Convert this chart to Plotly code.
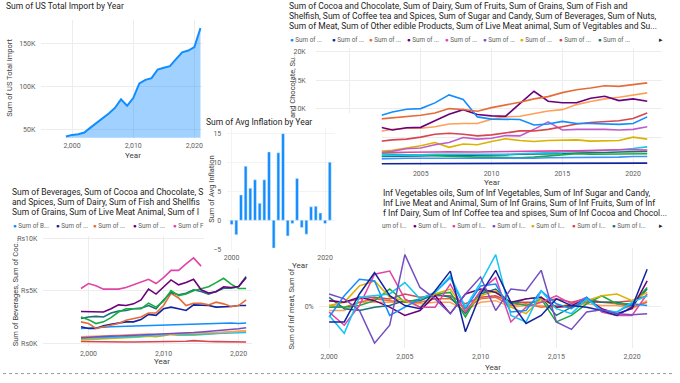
import plotly.graph_objects as go

W, H = 680, 383

# ----------------- data -----------------
import_years = list(range(1999, 2022))
us_total_import_k = [42.4, 44.3, 45.0, 47.0, 52.7, 58.0, 63.0, 69.0, 75.5, 85.4, 78.0, 87.0,
                     104.0, 108.0, 110.0, 120.0, 122.0, 124.0, 132.0, 140.0, 142.0, 146.0, 168.0]

cat_years = list(range(2002, 2022))
imp_cocoa = [8.67, 9.42, 9.88, 10.0, 11.0, 12.4, 11.6, 8.55, 8.16, 8.1, 8.1, 7.12, 7.29, 7.76, 7.4, 7.4, 7.29, 7.24, 7.4, 8.55]
imp_dairy = [0.35, 0.35, 0.35, 0.35, 0.35, 0.35, 0.35, 0.35, 0.35, 0.35, 0.35, 0.35, 0.38, 0.38, 0.38, 0.4, 0.4, 0.4, 0.42, 0.45]
imp_fruits = [8.16, 8.38, 8.55, 8.84, 9.24, 10.0, 9.83, 9.53, 10.17, 10.57, 11.1, 11.7, 12.1, 12.8, 13.3, 13.6, 14.0, 13.9, 14.2, 14.5]
imp_grains = [6.83, 6.26, 6.66, 6.72, 7.87, 9.02, 9.82, 8.96, 8.73, 8.67, 10.86, 13.04, 11.3, 11.03, 11.03, 11.83, 12.17, 11.4, 11.7, 11.3]
imp_fish = [2.3, 2.3, 2.35, 2.4, 2.4, 2.45, 2.4, 2.4, 2.45, 2.5, 2.5, 2.5, 2.55, 2.6, 2.6, 2.7, 2.75, 2.8, 2.8, 2.75]
imp_coffee = [2.24, 2.52, 2.98, 3.1, 3.67, 4.07, 4.93, 4.65, 4.82, 5.28, 5.22, 6.37, 7.69, 6.26, 6.37, 6.43, 6.37, 6.26, 6.37, 6.83]
imp_sugar = [2.52, 2.69, 3.1, 3.5, 4.07, 3.21, 3.79, 3.67, 4.25, 4.71, 4.42, 4.25, 4.42, 4.53, 4.53, 4.3, 4.42, 4.42, 5.0, 4.65]
imp_beverages = [4.25, 4.53, 4.65, 5.0, 5.5, 5.69, 5.5, 5.22, 5.4, 5.69, 6.09, 6.09, 6.37, 6.83, 7.29, 7.58, 7.69, 7.87, 8.27, 9.24]
imp_nuts = [1.6, 1.6, 1.7, 1.7, 1.8, 1.8, 1.8, 1.8, 1.9, 1.9, 2.0, 2.0, 2.1, 2.1, 2.2, 2.2, 2.3, 2.4, 2.4, 2.5]
imp_meat = [2.1, 2.0, 2.0, 1.9, 1.8, 1.7, 1.6, 1.5, 1.5, 1.4, 1.4, 1.5, 1.7, 2.0, 2.1, 2.0, 2.0, 2.0, 2.1, 2.1]
imp_other = [1.8, 1.8, 1.9, 1.9, 2.0, 2.0, 2.0, 1.9, 1.9, 2.0, 2.1, 2.2, 2.3, 2.4, 2.4, 2.5, 2.6, 2.8, 3.0, 3.3]
imp_live_meat = [1.2, 1.3, 1.3, 1.3, 1.3, 1.2, 1.2, 1.2, 1.2, 1.2, 1.3, 1.3, 1.4, 1.4, 1.4, 1.4, 1.5, 1.5, 1.6, 1.6]
imp_vegetables = [5.97, 6.37, 6.55, 6.55, 6.83, 7.29, 7.4, 7.4, 8.16, 8.55, 8.67, 9.13, 9.59, 9.82, 10.7, 11.26, 11.7, 12.0, 12.4, 12.76]

rs_years = list(range(1999, 2022))
rs_beverages = [1.43, 1.45, 1.5, 1.55, 1.6, 1.62, 1.65, 1.7, 1.72, 1.75, 1.72, 1.75, 1.8, 1.8, 1.82, 1.85, 1.85, 1.85, 1.88, 1.9, 1.95, 1.9, 1.95]
rs_cocoa = [1.59, 1.43, 1.43, 1.68, 1.84, 1.96, 2.06, 2.06, 2.27, 2.77, 2.68, 3.3, 3.46, 3.3, 3.14, 3.67, 3.67, 3.61, 3.46, 3.46, 3.52, 3.61, 3.61]
rs_coffee = [2.06, 1.9, 1.43, 1.59, 1.74, 1.9, 2.21, 2.37, 2.52, 2.9, 2.9, 3.61, 4.77, 4.33, 3.61, 3.83, 3.83, 3.67, 3.93, 3.77, 3.52, 3.61, 4.14]
rs_dairy = [3.05, 3.05, 2.99, 2.99, 3.3, 3.67, 3.61, 3.77, 4.14, 5.17, 4.7, 5.33, 6.04, 5.58, 5.79, 6.1, 5.11, 4.8, 4.92, 5.39, 5.33, 5.42, 6.26]
rs_fish = [5.23, 5.7, 5.48, 5.17, 5.17, 5.17, 5.33, 5.58, 5.79, 6.1, 5.7, 6.26, 6.95, 6.95, 7.57, 8.13, 7.35, None, None, None, None, None, None]
rs_fruits = [0.35, 0.38, 0.4, 0.42, 0.45, 0.5, 0.55, 0.6, 0.62, 0.7, 0.65, 0.75, 0.85, 0.8, 0.78, 0.8, 0.85, 0.9, 0.95, 1.0, 1.05, 1.1, 1.2]
rs_grains = [0.55, 0.6, 0.62, 0.65, 0.7, 0.72, 0.75, 0.78, 0.8, 0.85, 0.85, 0.9, 0.95, 0.98, 1.0, 1.05, 1.1, 1.15, 1.2, 1.25, 1.3, 1.4, 1.5]
rs_live_meat = [0.2, 0.18, 0.17, 0.16, 0.16, 0.15, 0.15, 0.15, 0.15, 0.16, 0.15, 0.16, 0.18, 0.2, 0.22, 0.28, 0.22, 0.2, 0.18, 0.17, 0.16, 0.15, 0.15]
rs_meat = [2.37, 2.52, 2.58, 2.52, 2.9, 3.08, 3.14, 3.3, 3.36, 3.61, 3.3, 4.14, 4.86, 4.64, 4.77, 5.11, 4.95, 4.7, 4.95, 5.26, 5.26, 5.39, 6.36]
rs_nuts = [2.52, 2.27, 1.9, 2.06, 2.46, 2.99, 3.3, 3.3, 3.3, 3.83, 3.46, 4.02, 5.02, 4.55, 4.7, 5.02, 5.17, 5.39, 5.79, 6.2, 5.64, 5.23, 5.23]
rs_other = [0.5, 0.5, 0.52, 0.55, 0.58, 0.6, 0.62, 0.65, 0.7, 0.8, 0.75, 0.8, 0.9, 0.85, 0.85, 0.88, 0.9, 0.92, 0.95, 0.98, 1.0, 1.0, 1.05]
rs_sugar = [0.65, 0.68, 0.7, 0.72, 0.75, 0.78, 0.8, 0.82, 0.85, 0.9, 0.85, 0.9, 0.95, 0.95, 0.98, 1.0, 1.0, 1.02, 1.05, 1.08, 1.1, 1.15, 1.2]

infl_years = list(range(2000, 2022))
avg_inflation = [-0.74, -2.5, 4.35, 9.3, 5.5, 6.95, 2.9, 6.95, 11.75, -4.8, 11.6, 14.9,
                 -2.7, -0.57, 7.2, -1.25, -2.4, 2.3, 2.4, 1.25, -0.57, 10.0]

inf_years = list(range(2000, 2022))
inf_veg_oils = [6.2, 3.7, -2.2, -18.8, -9.7, 26.2, 9.5, 3.7, -3.8, 6.2, 14.8, -2.2, 8.7, 7.8, 18.2, -8.0, -11.8, -3.0, -1.8, -3.8, -4.3, -3.8]
inf_vegetables = [-8.0, -8.0, 6.2, 17.0, 5.3, 0.3, -1.3, 7.8, 17.8, -13.0, 6.2, 18.2, 2.0, -8.8, -4.7, 3.7, 0.3, -0.5, -2.2, -4.7, -0.5, 18.7]
inf_sugar = [-4.7, -13.8, 4.5, 5.3, 6.2, 12.0, 3.7, 7.0, 15.3, -0.5, 12.0, 26.2, -4.7, -8.0, 7.8, -1.3, -3.8, 3.7, -2.2, -3.0, 2.0, 5.3]
inf_meat = [-5.5, 5.3, 13.7, 12.8, -4.7, -0.5, 3.7, 7.0, 14.5, -1.3, 10.3, 11.2, -3.0, -2.2, 7.8, 1.2, -1.3, 4.5, -2.2, -3.0, 1.2, 0.3]
inf_live_meat = [-3.0, -9.7, 0.3, 16.2, 17.8, 3.7, -0.5, -0.5, 11.2, -3.0, 7.8, 14.5, -8.0, -0.5, 2.0, 5.3, 1.2, 4.5, -3.0, -4.7, -4.7, 6.2]
inf_grains = [2.8, 2.0, 4.5, 2.8, -0.5, -4.7, -2.2, 5.3, -3.8, 6.2, 8.7, 7.0, 2.0, 3.7, 4.5, -0.5, 0.3, 3.7, -1.3, -3.8, -1.3, 12.8]
inf_fruits = [0.3, 2.0, 10.3, 12.8, 4.5, 2.8, -0.5, 6.2, 8.7, -2.2, 5.3, 7.8, -0.5, -3.8, 3.7, -0.5, 1.2, 2.8, 5.3, 6.2, 2.8, 7.0]
inf_dairy = [-0.5, -0.5, 0.3, 2.8, 8.7, 2.0, 3.7, 6.2, 7.0, -5.5, 7.8, 7.0, 2.0, 0.3, 3.7, -8.0, -4.7, 1.2, 5.3, 1.2, 1.2, 9.5]
inf_coffee = [4.5, -1.3, -2.2, -0.5, 0.3, 2.8, 2.8, 6.2, 4.5, -3.8, 6.2, 8.7, 1.2, 3.7, 4.5, -4.7, -0.5, 2.8, 2.0, 2.0, 0.3, 8.7]
inf_cocoa = [2.8, 2.0, 3.7, 4.5, 3.7, 6.2, 4.5, 5.3, 5.3, 1.2, 4.5, 5.3, 2.0, 2.0, 2.0, 3.7, 2.0, 3.7, 2.0, 2.0, 2.8, 5.3]
inf_fish = [0.3, -0.5, 2.0, 3.7, 2.8, 2.0, 2.0, 3.7, 3.7, -1.3, 3.7, 4.5, 0.3, 1.2, -0.5, 0.3, -0.2, 2.0, 2.0, 1.2, -0.5, 2.0]
inf_beverages = [-2.2, -2.2, 2.0, 2.0, 2.0, 2.0, 1.2, 2.0, 2.0, -2.2, 2.0, 2.8, -0.5, 0.3, 0.3, -0.5, -0.5, 1.2, 0.3, 0.3, -1.3, 2.8]

# ----------------- styling -----------------
FONT = "Roboto"
TITLE_C = "#252423"
TICK_C = "#605E5C"
GRID_C = "#EDEDED"
BLUE, NAVY, ORANGE, PURPLE, PINK, VIOLET = "#118DFF", "#12239E", "#E66C37", "#6B007B", "#E044A7", "#744EC2"
YELLOW, RED, TEAL, GREEN, CYAN, BLUE2, LORANGE, ORCHID = "#D9B300", "#D64550", "#197278", "#1AAB40", "#15C6F4", "#4092FF", "#FFA058", "#BE5DC9"


def fx(p):
    return p / W


def fy(p):
    return 1 - p / H


fig = go.Figure()

# 1. top-left area chart
fig.add_trace(go.Scatter(x=import_years, y=us_total_import_k, mode="lines", fill="tozeroy",
                         line=dict(color=BLUE, width=2), fillcolor="rgba(17,141,255,0.4)",
                         xaxis="x", yaxis="y", showlegend=False))

# 2. top-right lines
tr_series = [
    ("Nuts", imp_nuts, TEAL), ("Meat", imp_meat, GREEN), ("Live Meat animal", imp_live_meat, BLUE2),
    ("Other edible Products", imp_other, CYAN), ("Fish and Shellfish", imp_fish, PINK),
    ("Dairy", imp_dairy, NAVY), ("Sugar and Candy", imp_sugar, YELLOW), ("Coffee tea and Spices", imp_coffee, ORCHID),
    ("Beverages", imp_beverages, RED), ("Vegitables", imp_vegetables, LORANGE),
    ("Grains", imp_grains, PURPLE), ("Cocoa and Chocolate", imp_cocoa, BLUE), ("Fruits", imp_fruits, ORANGE),
]
for name, vals, col in tr_series:
    fig.add_trace(go.Scatter(x=cat_years, y=vals, mode="lines", name=name,
                             line=dict(color=col, width=1.6), xaxis="x2", yaxis="y2", showlegend=False))

# 3. bottom-left lines
bl_series = [
    ("Live Meat Animal", rs_live_meat, RED), ("Fruits", rs_fruits, YELLOW), ("Other", rs_other, CYAN),
    ("Sugar", rs_sugar, LORANGE), ("Grains", rs_grains, VIOLET), ("Beverages", rs_beverages, BLUE),
    ("Cocoa and Chocolate", rs_cocoa, NAVY), ("Coffee tea and Spices", rs_coffee, ORANGE),
    ("Meat", rs_meat, TEAL), ("Nuts", rs_nuts, GREEN), ("Dairy", rs_dairy, PURPLE), ("Fish and Shellfish", rs_fish, PINK),
]
for name, vals, col in bl_series:
    fig.add_trace(go.Scatter(x=rs_years, y=vals, mode="lines", name=name,
                             line=dict(color=col, width=1.6), xaxis="x3", yaxis="y3", showlegend=False))

# 4. bottom-right lines
br_series = [
    ("Inf Beverages", inf_beverages, LORANGE), ("Inf Fish", inf_fish, ORANGE), ("Inf Cocoa", inf_cocoa, RED),
    ("Inf Coffee", inf_coffee, TEAL), ("Inf Dairy", inf_dairy, GREEN), ("Inf Fruits", inf_fruits, YELLOW),
    ("Inf Grains", inf_grains, PURPLE), ("Inf Live Meat", inf_live_meat, PINK), ("Inf meat", inf_meat, BLUE),
    ("Inf Sugar", inf_sugar, CYAN), ("Inf Vegetables", inf_vegetables, NAVY), ("Inf Vegetables oils", inf_veg_oils, VIOLET),
]
for name, vals, col in br_series:
    fig.add_trace(go.Scatter(x=inf_years, y=vals, mode="lines", name=name,
                             line=dict(color=col, width=1.5), xaxis="x4", yaxis="y4", showlegend=False))

# 5. cover (the overlapping visual's white card)
fig.add_trace(go.Scatter(x=[], y=[], mode="lines", xaxis="x5", yaxis="y5", showlegend=False, hoverinfo="skip"))

# 6. bar chart
fig.add_trace(go.Bar(x=infl_years, y=avg_inflation, marker_color=BLUE, width=0.62,
                     xaxis="x6", yaxis="y6", showlegend=False))

tickfont = dict(family=FONT, size=7, color=TICK_C)


def ax(**kw):
    base = dict(showgrid=True, gridcolor=GRID_C, gridwidth=1, zeroline=False, showline=False,
                tickfont=tickfont, ticks="outside", ticklen=3, tickcolor="rgba(0,0,0,0)", tickmode="array")
    base.update(kw)
    return base


fig.update_layout(
    width=W, height=H, autosize=False,
    margin=dict(l=0, r=0, t=0, b=0),
    paper_bgcolor="white", plot_bgcolor="white",
    font=dict(family=FONT, color=TITLE_C),
    bargap=0.3,
    xaxis=ax(domain=[fx(38), fx(200)], range=[1994.88, 2021.22], tickvals=[2000, 2010, 2020],
             tickformat=",d", anchor="y", ticklen=1),
    yaxis=ax(domain=[fy(138), fy(18)], range=[40.9, 177.7], tickvals=[50, 100, 150],
             ticktext=["50K", "100K", "150K"], anchor="x"),
    xaxis2=ax(domain=[fx(315), fx(663)], range=[1997.61, 2022.05], tickvals=[2000, 2005, 2010, 2015, 2020],
              tickformat="d", anchor="y2", ticklen=1),
    yaxis2=ax(domain=[fy(166.3), fy(47)], range=[0, 20.57], tickvals=[0, 5, 10, 15, 20],
              ticktext=["0K", "5K", "10K", "15K", "20K"], anchor="x2", ticklen=8),
    xaxis3=ax(domain=[fx(40), fx(250)], range=[1993.91, 2021.72], tickvals=[2000, 2010, 2020],
              tickformat=",d", anchor="y3", ticklen=1),
    yaxis3=ax(domain=[fy(349), fy(238)], range=[-0.19, 10.19], tickvals=[0, 5, 10],
              ticktext=["Rs0K", "Rs5K", "Rs10K"], anchor="x3"),
    xaxis4=ax(domain=[fx(318), fx(662)], range=[1999.34, 2021.92], tickvals=[2000, 2005, 2010, 2015, 2020],
              tickformat=",d", anchor="y4", ticklen=1),
    yaxis4=ax(domain=[fy(352), fy(250)], range=[-21.5, 29.5], tickvals=[0], ticktext=["0%"], anchor="x4"),
    xaxis5=dict(domain=[fx(202), fx(381)], visible=False, anchor="y5", range=[0, 1]),
    yaxis5=dict(domain=[fy(270), fy(113)], visible=False, anchor="x5", range=[0, 1]),
    xaxis6=ax(domain=[fx(225), fx(334)], range=[1998.94, 2022.13], tickvals=[2000, 2020], tickformat="d",
              anchor="y6", gridcolor="#F3F3F3", ticklen=1),
    yaxis6=ax(domain=[fy(252), fy(128)], range=[-5.14, 15.88], tickvals=[-5, 0, 5, 10, 15], anchor="x6",
              gridcolor="#F3F3F3"),
)

ann = []


def text(x, y, s, size=8.5, color=TITLE_C, xanchor="left", angle=0):
    ann.append(dict(x=fx(x), y=fy(y), xref="paper", yref="paper", text=s, showarrow=False,
                    xanchor=xanchor, yanchor="middle", textangle=angle,
                    font=dict(family=FONT, size=size, color=color)))


# titles
text(1, 4.5, "Sum of US Total Import by Year")
tr_title = ["Sum of Cocoa and Chocolate, Sum of Dairy, Sum of Fruits, Sum of Grains, Sum of Fish and",
            "Shelfish, Sum of Coffee tea and Spices, Sum of Sugar and Candy, Sum of Beverages, Sum of Nuts,",
            "Sum of Meat, Sum of Other edible Products, Sum of Live Meat animal, Sum of Vegitables and Su..."]
for i, line in enumerate(tr_title):
    text(286, 4.5 + i * 10, line)
text(202, 122, "Sum of Avg Inflation by Year")
bl_title = ["Sum of Beverages, Sum of Cocoa and Chocolate, S",
            "and Spices, Sum of Dairy, Sum of Fish and Shellfis",
            "Sum of Grains, Sum of Live Meat Animal, Sum of I"]
for i, line in enumerate(bl_title):
    text(7, 193 + i * 10, line)
br_title = ["Inf Vegetables oils, Sum of Inf Vegetables, Sum of Inf Sugar and Candy,",
            "Inf Live Meat and Animal, Sum of Inf Grains, Sum of Inf Fruits, Sum of Inf",
            "f Inf Dairy, Sum of Inf Coffee tea and spises, Sum of Inf Cocoa and Chocol..."]
for i, line in enumerate(br_title):
    text(380, 194 + i * 10, line)

# axis titles
AX_C = "#404040"
text(7, 77, "Sum of US Total Import", size=7.5, color=AX_C, xanchor="center", angle=-90)
text(131, 156, "Year", size=8, color=AX_C, xanchor="center")
text(291, 84, "and Chocolate, Su...", size=7.5, color=AX_C, xanchor="center", angle=-90)
text(492, 183, "Year", size=8, color=AX_C, xanchor="center")
text(209, 190, "Sum of Avg Inflation", size=7.5, color=AX_C, xanchor="center", angle=-90)
text(299, 267.5, "Year", size=8, color=AX_C, xanchor="center")
text(12, 294, "Sum of Beverages, Sum of Coc...", size=7.5, color=AX_C, xanchor="center", angle=-90)
text(160, 365, "Year", size=8, color=AX_C, xanchor="center")
text(290, 312, "Sum of Inf meat, Sum of", size=7.5, color=AX_C, xanchor="center", angle=-90)
text(493, 371, "Year", size=8, color=AX_C, xanchor="center")


def legend_item(x, y, col, label):
    s = f'<span style="color:{col}">●</span> {label}' if col else label
    text(x, y, s, size=6.3, color=TICK_C)


tr_leg_x = [287, 329, 366, 404, 443, 481, 518, 557, 597]
tr_leg_c = [BLUE, NAVY, ORANGE, PURPLE, PINK, VIOLET, YELLOW, RED, TEAL]
for x, c in zip(tr_leg_x, tr_leg_c):
    legend_item(x, 39, c, "Sum of ...")
text(662, 39, "▸", size=7, color="#252423", xanchor="center")

bl_leg = [(8, BLUE, "Sum of B..."), (51, NAVY, "Sum of ..."), (89, ORANGE, "Sum of ..."),
          (129, PURPLE, "Sum of ..."), (169, PINK, "Sum of F")]
for x, c, lab in bl_leg:
    legend_item(x, 228, c, lab)

legend_item(379, 228, None, "um of I...")
br_leg_x = [410, 450, 490, 529, 570, 611]
br_leg_c = [PURPLE, PINK, VIOLET, YELLOW, RED, TEAL]
for x, c in zip(br_leg_x, br_leg_c):
    legend_item(x, 228, c, "Sum of I...")
text(662, 228, "▸", size=7, color="#252423", xanchor="center")

fig.update_layout(annotations=ann)

fig.add_shape(type="line", xref="paper", yref="paper", x0=0, x1=fx(676), y0=fy(377.5), y1=fy(377.5),
              line=dict(color="#9A9A9A", width=1, dash="dot"))

fig.write_html("out.html", config={"displayModeBar": False, "staticPlot": True},
               post_script="document.body.style.margin='0';document.body.style.overflow='hidden';")
